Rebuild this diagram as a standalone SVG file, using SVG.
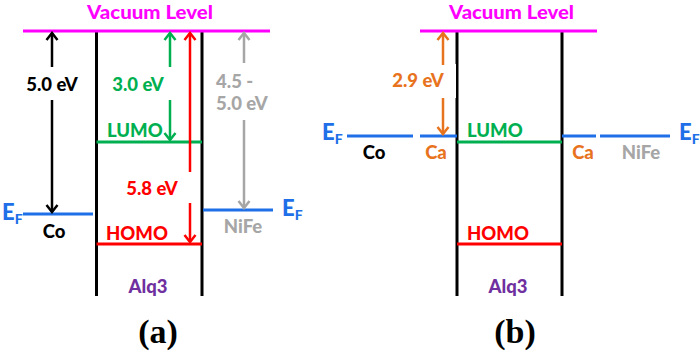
<svg xmlns="http://www.w3.org/2000/svg" width="700" height="356" viewBox="0 0 700 356">
<style>
  .t { font-family: Lato, "Open Sans", "Liberation Sans", sans-serif; font-weight: 900; }
  .big { font-size: 19.5px; }
  .mid { font-size: 18.5px; }
  .cap { font-family: "Liberation Serif", serif; font-weight: bold; font-size: 34px; fill: #000; }
  .wall { stroke: #000; stroke-width: 3; fill: none; }
  .vac { stroke: #FF00FF; stroke-width: 3; }
  .ef { stroke: #1E6FE8; stroke-width: 3; }
  .lumo { stroke: #00B050; stroke-width: 3; }
  .homo { stroke: #FF0000; stroke-width: 3; }
  .arr { stroke-width: 2.5; fill: none; }
  .mag { fill: #FF00FF; } .grn { fill: #00B050; } .red { fill: #FF0000; } .blu { fill: #1E6FE8; }
  .blk { fill: #000; } .gry { fill: #A6A6A6; } .org { fill: #E8731E; } .pur { fill: #7030A0; }
  .e { font-size: 22px; } .sub { font-size: 14px; }
</style>
<defs>
  <marker id="mBlk" markerUnits="userSpaceOnUse" viewBox="-9 -7 11 14" refX="0" refY="0" markerWidth="11" markerHeight="14" orient="auto"><path d="M-7,-5.5 L0,0 L-7,5.5" fill="none" stroke="#000" stroke-width="2.5"/></marker>
  <marker id="mGrn" markerUnits="userSpaceOnUse" viewBox="-9 -7 11 14" refX="0" refY="0" markerWidth="11" markerHeight="14" orient="auto"><path d="M-7,-5.5 L0,0 L-7,5.5" fill="none" stroke="#00B050" stroke-width="2.5"/></marker>
  <marker id="mRed" markerUnits="userSpaceOnUse" viewBox="-9 -7 11 14" refX="0" refY="0" markerWidth="11" markerHeight="14" orient="auto"><path d="M-7,-5.5 L0,0 L-7,5.5" fill="none" stroke="#FF0000" stroke-width="2.5"/></marker>
  <marker id="mGry" markerUnits="userSpaceOnUse" viewBox="-9 -7 11 14" refX="0" refY="0" markerWidth="11" markerHeight="14" orient="auto"><path d="M-7,-5.5 L0,0 L-7,5.5" fill="none" stroke="#A6A6A6" stroke-width="2.5"/></marker>
  <marker id="mOrg" markerUnits="userSpaceOnUse" viewBox="-9 -7 11 14" refX="0" refY="0" markerWidth="11" markerHeight="14" orient="auto"><path d="M-7,-5.5 L0,0 L-7,5.5" fill="none" stroke="#E8731E" stroke-width="2.5"/></marker>
</defs>
<rect width="700" height="356" fill="#fff"/>

<!-- Panel (a) -->
<g id="a-alq3">
  <line class="wall" x1="96.5" y1="31" x2="96.5" y2="296"/>
  <line class="wall" x1="202" y1="31" x2="202" y2="296"/>
  <line class="lumo" x1="96.5" y1="142" x2="202" y2="142"/>
  <line class="homo" x1="96.5" y1="244" x2="202" y2="244"/>
  <text class="t mid grn" x="107" y="137">LUMO</text>
  <text class="t mid red" x="106" y="240">HOMO</text>
  <text class="t mid pur" x="148" y="293" text-anchor="middle">Alq3</text>
</g>
<g id="a-vacuum">
  <line class="vac" x1="23" y1="31" x2="270" y2="31"/>
  <text class="t big mag" x="87" y="18.5" textLength="126" lengthAdjust="spacingAndGlyphs">Vacuum Level</text>
</g>
<g id="a-co">
  <line class="ef" x1="23" y1="214" x2="93" y2="214"/>
  <text class="t blu e" x="2" y="220">E<tspan class="sub" dy="4">F</tspan></text>
  <text class="t mid blk" x="54" y="238" text-anchor="middle">Co</text>
</g>
<g id="a-nife">
  <line class="ef" x1="203" y1="210" x2="273" y2="210"/>
  <text class="t blu e" x="282" y="216">E<tspan class="sub" dy="4">F</tspan></text>
  <text class="t mid gry" x="243" y="233" text-anchor="middle">NiFe</text>
</g>
<g id="a-connectors">
  <line class="arr" stroke="#000" x1="52" y1="67" x2="52" y2="33" marker-end="url(#mBlk)"/>
  <line class="arr" stroke="#000" x1="52" y1="100" x2="52" y2="212" marker-end="url(#mBlk)"/>
  <line class="arr" stroke="#00B050" x1="170" y1="67" x2="170" y2="33" marker-end="url(#mGrn)"/>
  <line class="arr" stroke="#00B050" x1="170" y1="100" x2="170" y2="140" marker-end="url(#mGrn)"/>
  <line class="arr" stroke="#FF0000" x1="190" y1="172" x2="190" y2="33" marker-end="url(#mRed)"/>
  <line class="arr" stroke="#FF0000" x1="190" y1="203" x2="190" y2="242" marker-end="url(#mRed)"/>
  <line class="arr" stroke="#A6A6A6" x1="244" y1="63" x2="244" y2="33" marker-end="url(#mGry)"/>
  <line class="arr" stroke="#A6A6A6" x1="244" y1="120" x2="244" y2="208" marker-end="url(#mGry)"/>
  <text class="t mid blk" x="52" y="91" text-anchor="middle">5.0 eV</text>
  <text class="t mid grn" x="138" y="91" text-anchor="middle">3.0 eV</text>
  <text class="t mid red" x="152" y="195" text-anchor="middle">5.8 eV</text>
  <text class="t mid gry" x="216" y="88">4.5 -</text>
  <text class="t mid gry" x="216" y="110">5.0 eV</text>
</g>
<text class="cap" x="158" y="343" text-anchor="middle">(a)</text>

<!-- Panel (b) -->
<g id="b-alq3">
  <line class="wall" x1="457" y1="31" x2="457" y2="296"/>
  <line class="wall" x1="562" y1="31" x2="562" y2="296"/>
  <line class="lumo" x1="457" y1="142" x2="562" y2="142"/>
  <line class="homo" x1="457" y1="244" x2="562" y2="244"/>
  <text class="t mid grn" x="467" y="137">LUMO</text>
  <text class="t mid red" x="467" y="240">HOMO</text>
  <text class="t mid pur" x="508" y="293" text-anchor="middle">Alq3</text>
</g>
<g id="b-vacuum">
  <line class="vac" x1="420" y1="31" x2="597" y2="31"/>
  <text class="t big mag" x="449" y="18.5" textLength="125" lengthAdjust="spacingAndGlyphs">Vacuum Level</text>
</g>
<g id="b-co">
  <line class="ef" x1="347" y1="136" x2="413" y2="136"/>
  <text class="t blu e" x="322" y="140">E<tspan class="sub" dy="4">F</tspan></text>
  <text class="t mid blk" x="374" y="159" text-anchor="middle">Co</text>
</g>
<g id="b-ca-left">
  <line class="ef" x1="420" y1="136" x2="457" y2="136"/>
  <text class="t mid org" x="436" y="159" text-anchor="middle">Ca</text>
</g>
<g id="b-ca-right">
  <line class="ef" x1="562" y1="136" x2="596" y2="136"/>
  <text class="t mid org" x="583" y="159" text-anchor="middle">Ca</text>
</g>
<g id="b-nife">
  <line class="ef" x1="600" y1="136" x2="670" y2="136"/>
  <text class="t blu e" x="679" y="140">E<tspan class="sub" dy="4">F</tspan></text>
  <text class="t mid gry" x="641" y="159" text-anchor="middle">NiFe</text>
</g>
<g id="b-connectors">
  <rect x="390" y="64" width="66" height="34" fill="#fff"/>
  <line class="arr" stroke="#E8731E" x1="443" y1="65" x2="443" y2="33" marker-end="url(#mOrg)"/>
  <line class="arr" stroke="#E8731E" x1="443" y1="98" x2="443" y2="134" marker-end="url(#mOrg)"/>
  <text class="t mid org" x="418" y="87" text-anchor="middle">2.9 eV</text>
</g>
<text class="cap" x="515" y="343" text-anchor="middle">(b)</text>
</svg>
